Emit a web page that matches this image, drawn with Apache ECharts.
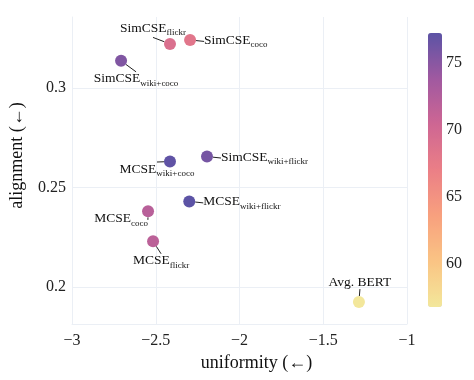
<!DOCTYPE html>
<html>
<head>
<meta charset="utf-8">
<script src="https://cdn.jsdelivr.net/npm/echarts@6/dist/echarts.min.js"></script>
<style>
html,body{margin:0;padding:0;background:#fff;}
#chart{width:474px;height:380px;}
</style>
</head>
<body>
<div id="chart"></div>
<script>
// ---- data ----
var modelNames = ['SimCSE', 'SimCSE', 'SimCSE', 'MCSE', 'SimCSE', 'MCSE', 'MCSE', 'MCSE', 'Avg. BERT'];
var modelSubs  = ['flickr', 'coco', 'wiki+coco', 'wiki+coco', 'wiki+flickr', 'wiki+flickr', 'coco', 'flickr', ''];
var uniformity = [-2.415, -2.295, -2.707, -2.415, -2.194, -2.300, -2.546, -2.516, -1.287];
var alignment  = [0.322, 0.324, 0.3135, 0.263, 0.2655, 0.243, 0.238, 0.223, 0.1925];
var stsScore   = [69.0, 68.2, 75.4, 77.0, 75.9, 77.2, 72.0, 71.8, 56.8];
var xTicks = [-3, -2.5, -2, -1.5, -1];
var yTicks = [0.2, 0.25, 0.3];
var cbTicks = [60, 65, 70, 75];

// ---- styles ----
var labelOffsets = [[-17, -15.5], [0, 0.5], [15, 18], [-13, 7.5], [0, 0.5], [0, 0.5], [-27, 7.5], [8, 19.5], [1, -20]];
var labelAnchors = ['inside', 'right', 'inside', 'inside', 'right', 'right', 'inside', 'inside', 'inside'];
var FONT = "'Liberation Serif', 'Times New Roman', serif";
var sunset = ['#f3e79b', '#fac484', '#f8a07e', '#eb7f86', '#ce6693', '#a059a0', '#5c53a5'];
var gridColor = '#EBEFF5';

var points = uniformity.map(function (u, i) {
  return { value: [u, alignment[i], stsScore[i]], name: modelNames[i], sub: modelSubs[i] };
});

function minusFmt(v) { return String(v).replace('-', '\u2212'); }

var chart = echarts.init(document.getElementById('chart'), null, { renderer: 'canvas' });
chart.setOption({
  backgroundColor: '#fff',
  animation: false,
  textStyle: { fontFamily: FONT },
  grid: [
    { left: 72, right: 67, top: 17, bottom: 56 },
    { left: 428, top: 33, width: 14, height: 274 }
  ],
  xAxis: [
    {
      gridIndex: 0, type: 'value', min: -3, max: -1, interval: 0.5,
      name: 'uniformity (\u2190)', nameLocation: 'middle', nameGap: 28,
      nameTextStyle: { fontFamily: FONT, fontSize: 18, color: '#111', padding: [0, 0, 0, 34] },
      axisLine: { show: true, lineStyle: { color: gridColor, width: 1 } },
      axisTick: { show: false },
      axisLabel: { fontFamily: FONT, fontSize: 16, color: '#222', margin: 9, formatter: minusFmt },
      splitLine: { show: true, lineStyle: { color: gridColor, width: 1 } }
    },
    { gridIndex: 1, type: 'value', show: false, min: 0, max: 1 }
  ],
  yAxis: [
    {
      gridIndex: 0, type: 'value', min: 0.1815, max: 0.3355,
      name: 'alignment (\u2190)', nameLocation: 'middle', nameGap: 46,
      nameTextStyle: { fontFamily: FONT, fontSize: 18, color: '#111', padding: [0, 0, 0, 30] },
      axisLine: { show: true, lineStyle: { color: gridColor, width: 1 } },
      axisTick: { show: false, customValues: yTicks },
      axisLabel: { fontFamily: FONT, fontSize: 16, color: '#222', margin: 6, customValues: yTicks, formatter: minusFmt },
      splitLine: { show: true, lineStyle: { color: gridColor, width: 1 } }
    },
    {
      gridIndex: 1, type: 'value', position: 'right', min: 56.8, max: 77.2,
      axisLine: { show: false }, axisTick: { show: false, customValues: cbTicks },
      axisLabel: { fontFamily: FONT, fontSize: 16, color: '#222', margin: 4, customValues: cbTicks },
      splitLine: { show: false }
    }
  ],
  visualMap: {
    type: 'continuous', dimension: 2, seriesIndex: 0,
    min: 56.8, max: 77.2, calculable: false, realtime: false, hoverLink: false,
    left: 428, top: 33, itemWidth: 14, itemHeight: 274, padding: 0,
    text: null, showLabel: false,
    inRange: { color: sunset }
  },
  series: [{
    type: 'scatter', xAxisIndex: 0, yAxisIndex: 0,
    symbolSize: 12,
    data: points.map(function (p, i) {
      var a = labelAnchors[i];
      var lab = a === 'right' ? { position: 'right', distance: 8 } : { position: 'inside' };
      return Object.assign({}, p, { label: lab });
    }),
    itemStyle: { opacity: 1 },
    label: {
      show: true, position: 'inside',
      formatter: function (p) {
        return p.data.sub ? '{m|' + p.data.name + '}{s|' + p.data.sub + '}' : '{m|' + p.data.name + '}';
      },
      rich: {
        m: { fontFamily: FONT, fontSize: 13.5, lineHeight: 14, color: '#111', verticalAlign: 'top' },
        s: { fontFamily: FONT, fontSize: 9, lineHeight: 9, color: '#111', verticalAlign: 'top', padding: [7, 0, 0, 0] }
      }
    },
    labelLine: { show: true, lineStyle: { color: '#222', width: 1 } },
    labelLayout: function (params) {
      var o = labelOffsets[params.dataIndex];
      return { dx: o[0], dy: o[1] };
    }
  }]
});
</script>
</body>
</html>
